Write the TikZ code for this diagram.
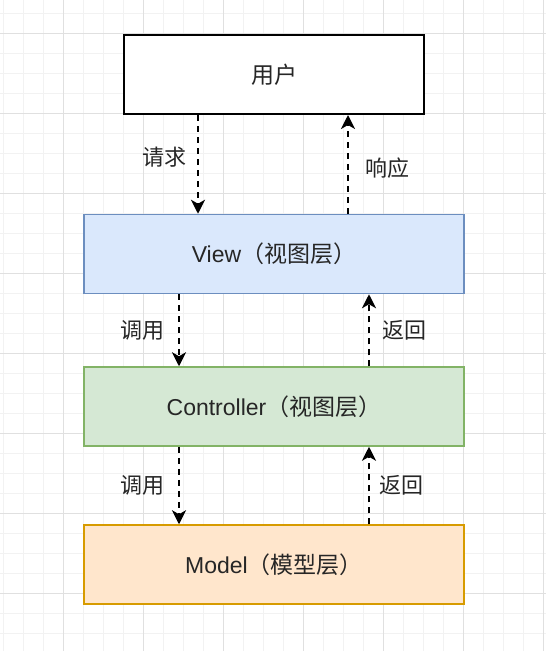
\documentclass[tikz,border=0pt]{standalone}
\usepackage{fontspec}
\setmainfont{Liberation Sans}
\newfontfamily\cjk{Noto Sans CJK SC}
\usetikzlibrary{arrows.meta}
\definecolor{viewfill}{HTML}{DAE8FC}
\definecolor{viewline}{HTML}{6C8EBF}
\definecolor{ctrlfill}{HTML}{D5E8D4}
\definecolor{ctrlline}{HTML}{82B366}
\definecolor{modelfill}{HTML}{FFE6CC}
\definecolor{modelline}{HTML}{D79B00}
\begin{document}
\begin{tikzpicture}[
            x=1pt, y=-1pt,
            layer/.style={rectangle, draw, line width=1.5pt, minimum width=380pt, minimum height=79pt, text centered, font=\fontsize{23}{27}\selectfont, text=black!85},
            lbl/.style={font=\cjk\fontsize{22}{26}\selectfont, inner sep=0pt, text=black!85},
            flow/.style={-{Stealth[length=14pt,width=14pt,inset=4pt]}, line width=2pt, dash pattern=on 6pt off 5pt},
            gridminor/.style={draw=black!5, line width=0.7pt},
            gridmajor/.style={draw=black!12, line width=0.7pt}
        ]
            \useasboundingbox[fill=white] (0,0) rectangle (546,651);
            % background grid
            \foreach \gx in {3,23,...,543} \draw[gridminor] (\gx,0) -- (\gx,651);
            \foreach \gy in {13,33,...,653} \draw[gridminor] (0,\gy) -- (546,\gy);
            \foreach \gx in {63,143,...,543} \draw[gridmajor] (\gx,0) -- (\gx,651);
            \foreach \gy in {33,113,...,653} \draw[gridmajor] (0,\gy) -- (546,\gy);

            \node[layer, fill=white, line width=2pt, minimum width=300pt, font=\cjk\fontsize{23}{27}\selectfont] (user) at (274,74.5) {用户};
            \node[layer, fill=viewfill, draw=viewline] (view) at (274,254) {View{\cjk（视图层）}};
            \node[layer, fill=ctrlfill, draw=ctrlline] (ctrl) at (274,406.5) {Controller{\cjk（视图层）}};
            \node[layer, fill=modelfill, draw=modelline] (model) at (274,564.5) {Model{\cjk（模型层）}};

            \draw[flow] ([xshift=-76pt]user.south) -- node[lbl, pos=0.43, left=11pt] {请求} ([xshift=-76pt]view.north);
            \draw[flow] ([xshift=74pt]view.north) -- node[lbl, pos=0.46, right=16pt] {响应} ([xshift=74pt]user.south);
            \draw[flow] ([xshift=-95pt]view.south) -- node[lbl, left=14pt] {调用} ([xshift=-95pt]ctrl.north);
            \draw[flow] ([xshift=95pt]ctrl.north) -- node[lbl, right=12pt] {返回} ([xshift=95pt]view.south);
            \draw[flow] ([xshift=-95pt]ctrl.south) -- node[lbl, left=14pt] {调用} ([xshift=-95pt]model.north);
            \draw[flow] ([xshift=95pt]model.north) -- node[lbl, right=9pt] {返回} ([xshift=95pt]ctrl.south);
        \end{tikzpicture}
\end{document}
